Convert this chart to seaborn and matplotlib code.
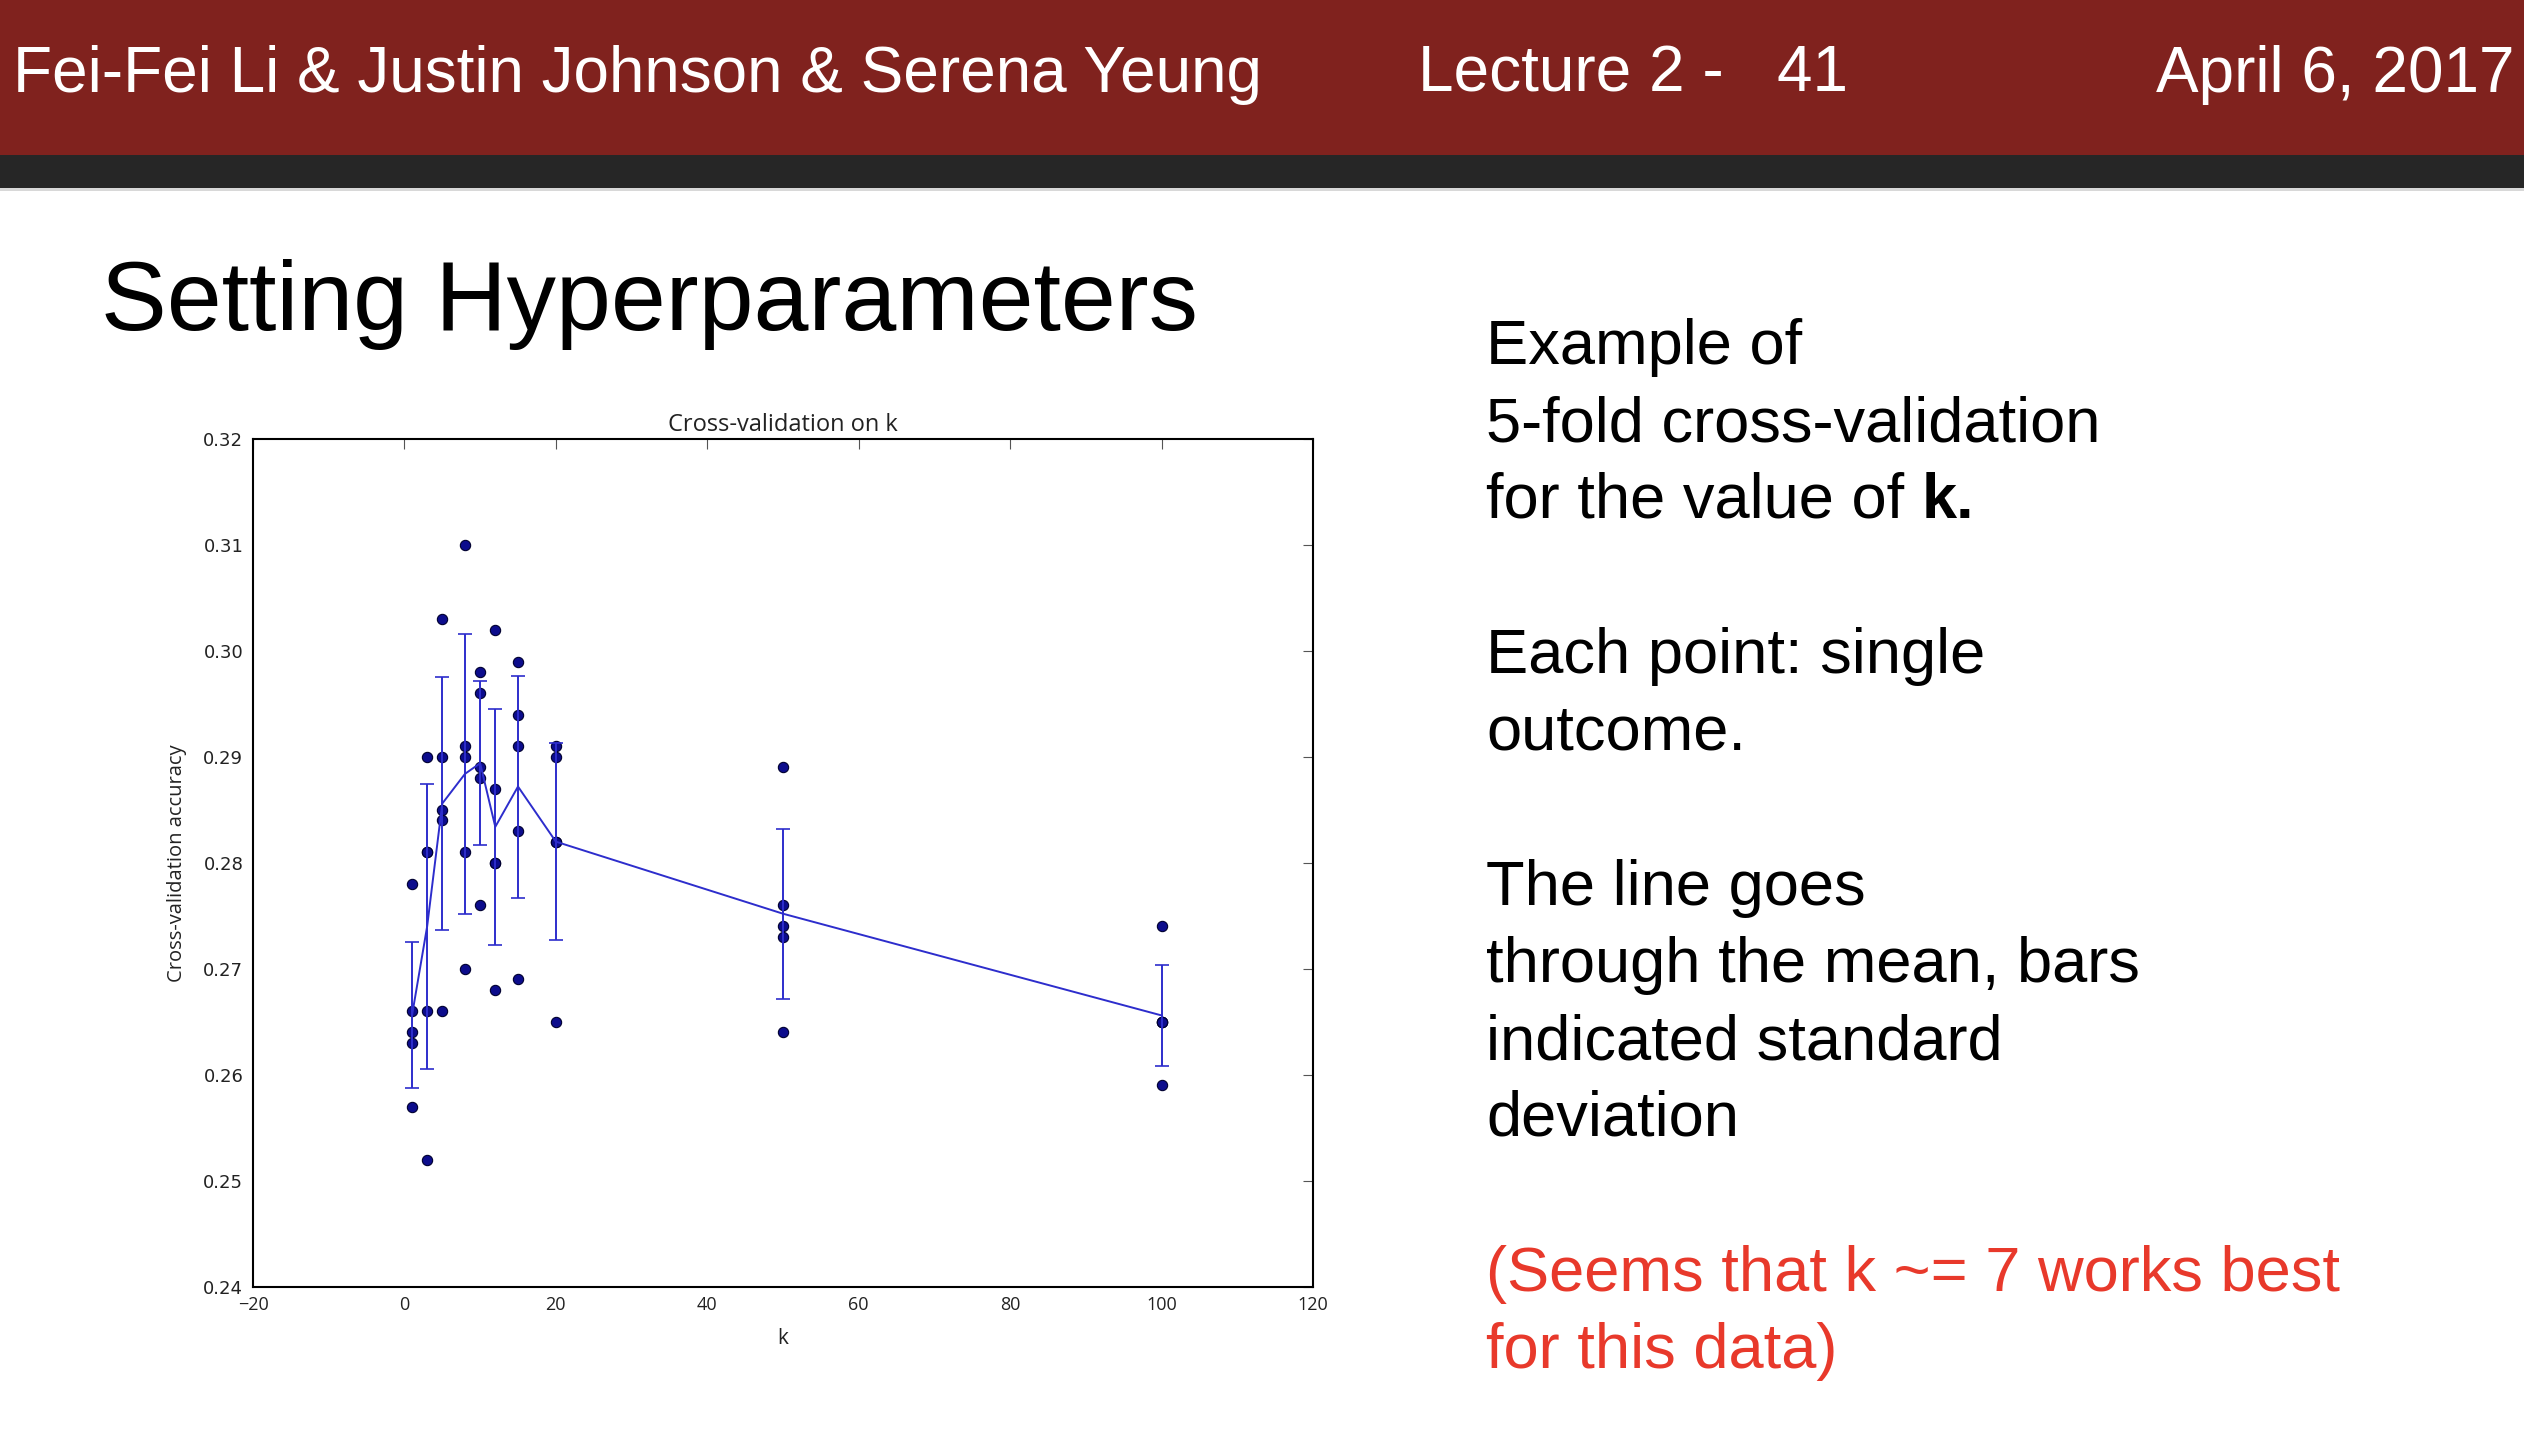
import numpy as np
import pandas as pd
import matplotlib
matplotlib.use("Agg")
import matplotlib.pyplot as plt
from matplotlib.patches import Rectangle
import seaborn as sns

# ---------------- data ----------------
k_choices = [1, 3, 5, 8, 10, 12, 15, 20, 50, 100]
acc_k1 = [0.278, 0.266, 0.264, 0.263, 0.257]
acc_k3 = [0.290, 0.281, 0.281, 0.266, 0.252]
acc_k5 = [0.303, 0.290, 0.285, 0.284, 0.266]
acc_k8 = [0.310, 0.291, 0.290, 0.281, 0.270]
acc_k10 = [0.298, 0.296, 0.289, 0.288, 0.276]
acc_k12 = [0.302, 0.287, 0.280, 0.280, 0.268]
acc_k15 = [0.299, 0.294, 0.291, 0.283, 0.269]
acc_k20 = [0.291, 0.290, 0.282, 0.282, 0.265]
acc_k50 = [0.289, 0.276, 0.274, 0.273, 0.264]
acc_k100 = [0.274, 0.265, 0.265, 0.265, 0.259]
accuracies = [acc_k1, acc_k3, acc_k5, acc_k8, acc_k10,
              acc_k12, acc_k15, acc_k20, acc_k50, acc_k100]

x_ticks = [-20, 0, 20, 40, 60, 80, 100, 120]
y_ticks = [0.24, 0.25, 0.26, 0.27, 0.28, 0.29, 0.30, 0.31, 0.32]

header_left = "Fei-Fei Li & Justin Johnson & Serena Yeung"
header_mid = "Lecture 2 -   41"
header_right = "April 6, 2017"
slide_title = "Setting Hyperparameters"
chart_title = "Cross-validation on k"
x_label = "k"
y_label = "Cross-validation accuracy"

rows = [(k, a) for k, accs in zip(k_choices, accuracies) for a in accs]
df = pd.DataFrame(rows, columns=["k", "acc"])
stats = df.groupby("k")["acc"].agg(mean="mean", std=lambda v: np.std(v.values)).reset_index()

# ---------------- style ----------------
sns.set_style("white")
plt.rcParams["font.family"] = ["Liberation Sans", "DejaVu Sans"]
plt.rcParams["xtick.direction"] = "in"
plt.rcParams["ytick.direction"] = "in"

W, H = 2524, 1436
fig = plt.figure(figsize=(W / 100, H / 100), dpi=100)
fig.patch.set_facecolor("white")

def fx(px):
    return px / W

def fy(py):
    return 1 - py / H

# banner
fig.patches.append(Rectangle((0, fy(155)), 1, 155 / H, transform=fig.transFigure,
                             facecolor="#80221E", edgecolor="none", zorder=0))
fig.patches.append(Rectangle((0, fy(188)), 1, 33 / H, transform=fig.transFigure,
                             facecolor="#262626", edgecolor="none", zorder=0))
fig.patches.append(Rectangle((0, fy(191)), 1, 3 / H, transform=fig.transFigure,
                             facecolor="#d8d8d8", edgecolor="none", zorder=0))

hfs = 46
fig.text(fx(13), fy(92), header_left, color="white", fontsize=hfs, va="baseline", ha="left")
fig.text(fx(1418), fy(92), header_mid, color="white", fontsize=hfs, va="baseline", ha="left")
fig.text(fx(2514), fy(92), header_right, color="white", fontsize=hfs, va="baseline", ha="right")

fig.text(fx(101), fy(330), slide_title, color="black", fontsize=71, va="baseline", ha="left")

# right-hand text
tfs = 45.5
tx = fx(1486)
lines = [
    (364, "Example of", "black"),
    (441, "5-fold cross-validation", "black"),
    (673, "Each point: single", "black"),
    (750, "outcome.", "black"),
    (905, "The line goes", "black"),
    (982, "through the mean, bars", "black"),
    (1059, "indicated standard", "black"),
    (1136, "deviation", "black"),
    (1291, "(Seems that k ~= 7 works best", "#E8392B"),
    (1368, "for this data)", "#E8392B"),
]
for y, s, c in lines:
    fig.text(tx, fy(y), s, color=c, fontsize=tfs, va="baseline", ha="left")
t_for = fig.text(tx, fy(518), "for the value of ", color="black", fontsize=tfs,
                 va="baseline", ha="left")

# ---------------- chart ----------------
ax = fig.add_axes([fx(253), fy(1286.7), (1313 - 253) / W, (1286.7 - 439) / H])
ax.set_facecolor("white")

sns.scatterplot(data=df, x="k", y="acc", ax=ax, s=55, color="#0c0c8c",
                edgecolor="#000030", linewidth=0.8, legend=False, zorder=2)
ax.errorbar(stats["k"], stats["mean"], yerr=stats["std"], color="#2d2dcc",
            linewidth=1.4, elinewidth=1.4, capsize=5, capthick=1.2, zorder=3)

ax.set_xlim(-20, 120)
ax.set_ylim(0.24, 0.32)
ax.set_xticks(x_ticks)
ax.set_yticks(y_ticks)
ax.set_xticklabels([str(v).replace("-", "\u2212") for v in x_ticks],
                   fontfamily=["Open Sans", "DejaVu Sans"], fontsize=13, color="#222222")
ax.set_yticklabels([f"{v:.2f}" for v in y_ticks],
                   fontfamily=["DejaVu Sans"], fontsize=13, color="#222222")
ax.tick_params(axis="both", which="major", length=7, width=0.8, color="#555555",
               top=True, right=True, direction="in", pad=7)
for sp in ax.spines.values():
    sp.set_visible(True)
    sp.set_color("black")
    sp.set_linewidth(1.5)

ax.set_title(chart_title, fontfamily=["Open Sans", "DejaVu Sans"], fontsize=17,
             color="#222222", pad=6)
ax.set_xlabel(x_label, fontfamily=["Open Sans", "DejaVu Sans"], fontsize=15,
              color="#222222", labelpad=10)
ax.set_ylabel(y_label, fontfamily=["Open Sans", "DejaVu Sans"], fontsize=14.5,
              color="#222222", labelpad=12)

# bold "k." after "for the value of "
fig.canvas.draw()
bb = t_for.get_window_extent(renderer=fig.canvas.get_renderer())
fig.text(bb.x1 / W, fy(518), "k.", color="black", fontsize=tfs, fontweight="bold",
         va="baseline", ha="left")

fig.savefig("out.png", dpi=100, facecolor="white")
